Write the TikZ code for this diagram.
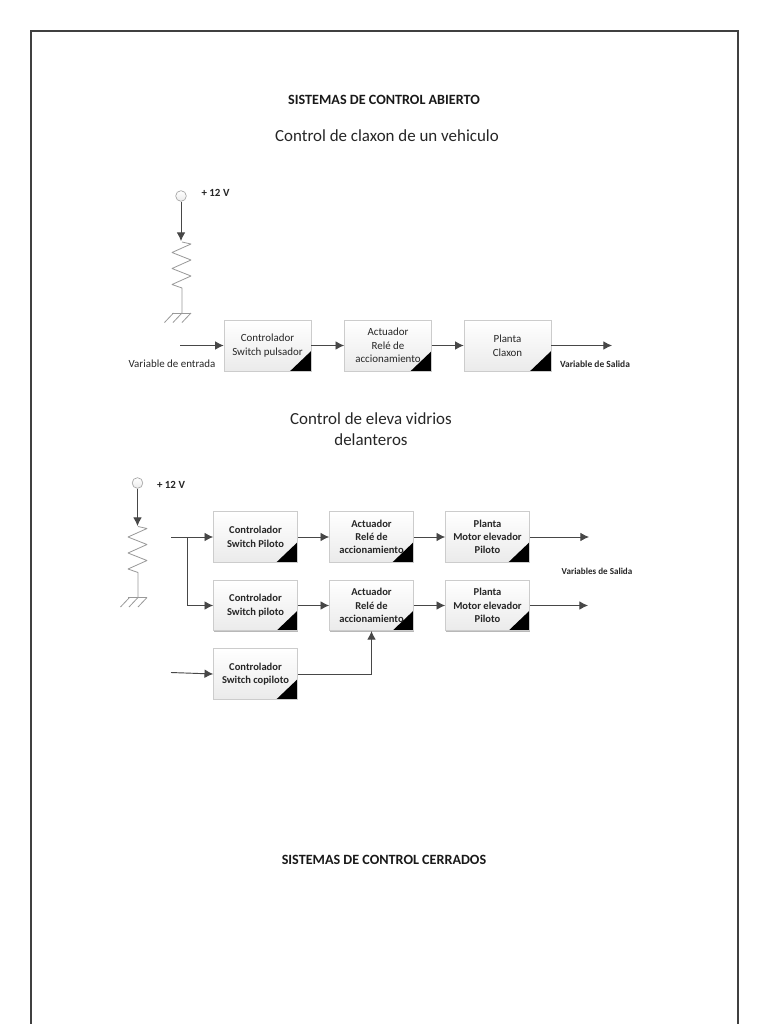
\documentclass[tikz,border=0pt]{standalone}
\usepackage{fontspec}
\setmainfont{Carlito}
\usetikzlibrary{arrows.meta,shadows}
\tikzset{
  x=0.75pt,y=-0.75pt,
  blockbase/.style={draw=black!20,line width=0.5pt,inner sep=0pt,align=center,
    top color=white,bottom color=black!8,
    copy shadow={shadow xshift=0.6pt,shadow yshift=-0.6pt,draw=none,fill=black!28},
    font=\fontsize{8.2}{10.2}\selectfont,text=black!85,
    path picture={\fill[black] (path picture bounding box.south east) -- ++(-21,0) -- ++(21,-20) -- cycle;}},
  blockA/.style={blockbase,minimum width=65.25pt,minimum height=38.5pt},
  blockB/.style={blockbase,minimum width=63pt,minimum height=37.8pt,font=\fontsize{7.9}{10}\selectfont\bfseries},
  conn/.style={draw=black!72,line width=0.7pt,-{Latex[length=6.5pt,width=6.5pt]}},
  plainline/.style={draw=black!72,line width=0.7pt},
  wire/.style={draw=black!40,line width=0.6pt},
  source/.style={circle,draw=black!35,line width=0.5pt,inner sep=0pt,minimum size=8pt,top color=white,bottom color=black!8},
  heading/.style={font=\fontsize{10.6}{13}\selectfont\bfseries,text=black!90},
  subtitle/.style={font=\fontsize{12.7}{15.8}\selectfont,text=black!85,align=center},
  small/.style={font=\fontsize{8.2}{10}\selectfont,text=black!85},
  smallb/.style={font=\fontsize{7.1}{9}\selectfont\bfseries,text=black!85},
  volt/.style={font=\fontsize{8.2}{10}\selectfont\bfseries,text=black!85},
}
\newcommand{\rescomb}[2]{%
  \begin{scope}[shift={(#1,#2)}]
    \draw[wire,line join=round] (182,242) -- (191,244) -- (172,252.5) -- (191,260) -- (172,268.5) -- (191,276) -- (172,284.5) -- (182,288) -- (182,313);
    \draw[wire] (172,313) -- (191,313);
    \draw[wire] (173.5,313) -- (164.5,322.5);
    \draw[wire] (182,313) -- (173,322.5);
    \draw[wire] (191,313) -- (182,322.5);
  \end{scope}}
\begin{document}
\begin{tikzpicture}
\useasboundingbox (0,0) rectangle (768,1024);
\clip (0,0) rectangle (768,1024);
\fill[white] (0,0) rectangle (768,1024);
\draw[draw=black!75,line width=0.8pt] (31,31) rectangle (738,1040);

\node[heading] (t1) at (384,99.5) {SISTEMAS DE CONTROL ABIERTO};
\node[subtitle] (t2) at (387,135.5) {Control de claxon de un vehiculo};
\node[subtitle] (t3) at (371,429.5) {Control de eleva vidrios\\delanteros};
\node[heading] (t4) at (384,859.5) {SISTEMAS DE CONTROL CERRADOS};

% first circuit
\node[source] (s1) at (181,196) {};
\coordinate (r1) at (181,241);
\draw[conn] (s1) -- (r1);
\rescomb{0}{0}
\node[volt] (v1) at (215.5,193) {+ 12 V};
\node[blockA] (a1) at (267.5,345.5) {Controlador\\Switch pulsador};
\node[blockA] (a2) at (388,345.5) {Actuador\\Relé de\\accionamiento};
\node[blockA] (a3) at (507.5,345.5) {Planta\\Claxon};
\coordinate (in1) at (180,345.5);
\coordinate (out1) at (612,345.5);
\draw[conn] (in1) -- (a1);
\draw[conn] (a1) -- (a2);
\draw[conn] (a2) -- (a3);
\draw[conn] (a3) -- (out1);
\node[small] (l1) at (172,364) {Variable de entrada};
\node[smallb] (l2) at (595,364) {Variable de Salida};

% second circuit
\node[source] (s2) at (137.5,483) {};
\coordinate (r2) at (137.5,526);
\draw[conn] (s2) -- (r2);
\rescomb{-44}{284.5}
\node[volt] (v2) at (171,485) {+ 12 V};

\node[blockB] (b1) at (255.5,537) {Controlador\\Switch Piloto};
\node[blockB] (b2) at (371.5,537) {Actuador\\Relé de\\accionamiento};
\node[blockB] (b3) at (487.5,537) {Planta\\Motor elevador\\Piloto};
\node[blockB] (c1) at (255.5,605.5) {Controlador\\Switch piloto};
\node[blockB] (c2) at (371.5,605.5) {Actuador\\Relé de\\accionamiento};
\node[blockB] (c3) at (487.5,605.5) {Planta\\Motor elevador\\Piloto};
\node[blockB] (d1) at (255.5,674) {Controlador\\Switch copiloto};

\coordinate (in2) at (171,537);
\coordinate (j2) at (187,537);
\coordinate (in3) at (171,672.5);
\coordinate (out2) at (589,537);
\coordinate (out3) at (588,605.5);
\coordinate (k2) at (187,605.5);
\draw[conn] (in2) -- (b1);
\draw[plainline] (j2) -- (k2);
\draw[conn] (k2) -- (c1);
\draw[conn] (in3) -- (d1.west);
\draw[conn] (b1) -- (b2);
\draw[conn] (b2) -- (b3);
\draw[conn] (b3) -- (out2);
\draw[conn] (c1) -- (c2);
\draw[conn] (c2) -- (c3);
\draw[conn] (c3) -- (out3);
\draw[conn] (d1.east) -| (c2.south);
\node[font=\fontsize{6.8}{8}\selectfont\bfseries,text=black!85] (l3) at (597,571) {Variables de Salida};
\end{tikzpicture}
\end{document}
